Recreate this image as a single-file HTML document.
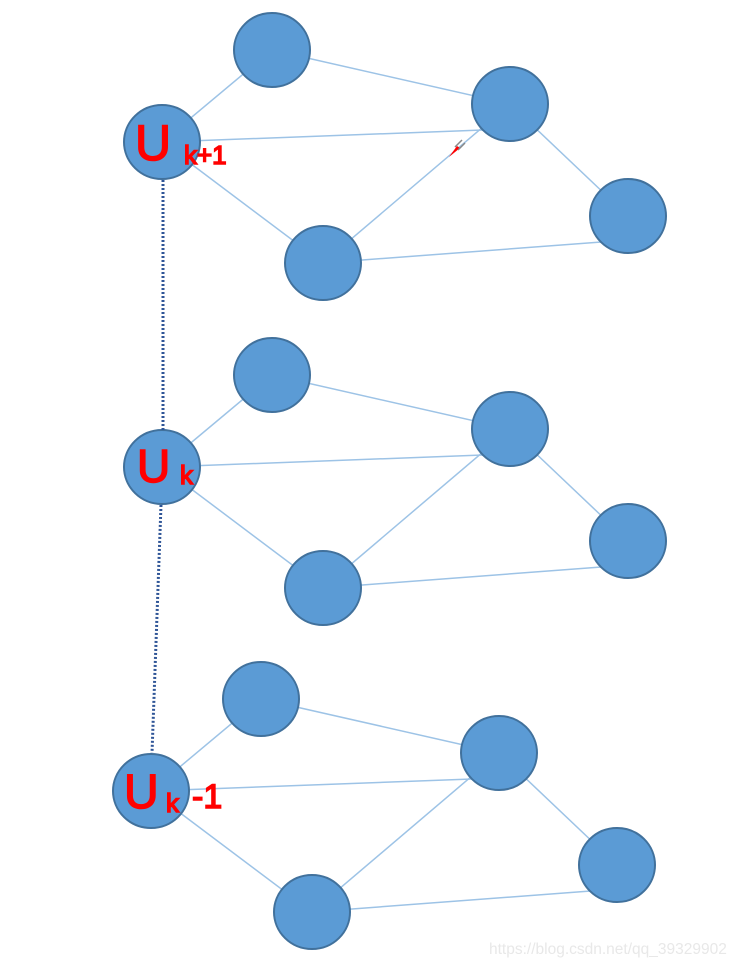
<!DOCTYPE html>
<html><head><meta charset="utf-8"><style>
html,body{margin:0;padding:0;background:#fff;}
svg{display:block;}
</style></head><body>
<svg width="741" height="965" viewBox="0 0 741 965" xmlns="http://www.w3.org/2000/svg">
<defs>
<g id="grp">
  <g stroke="#9dc3e6" stroke-width="1.5" fill="none">
    <line x1="162" y1="142" x2="272" y2="50"/>
    <line x1="162" y1="142" x2="510" y2="129"/>
    <line x1="162" y1="142" x2="323" y2="263"/>
    <line x1="272" y1="50" x2="510" y2="104"/>
    <line x1="510" y1="104" x2="323" y2="263"/>
    <line x1="510" y1="104" x2="628" y2="216"/>
    <line x1="323" y1="263" x2="628" y2="240"/>
  </g>
  <g fill="#5b9bd5" stroke="#41719c" stroke-width="2">
    <ellipse cx="162" cy="142" rx="38" ry="37"/>
    <ellipse cx="272" cy="50" rx="38" ry="37"/>
    <ellipse cx="510" cy="104" rx="38" ry="37"/>
    <ellipse cx="628" cy="216" rx="38" ry="37"/>
    <ellipse cx="323" cy="263" rx="38" ry="37"/>
  </g>
</g>
</defs>
<use href="#grp"/>
<use href="#grp" transform="translate(0,325)"/>
<use href="#grp" transform="translate(-11,649)"/>
<g stroke="#2f5597" stroke-width="3" stroke-dasharray="2 2">
  <line x1="163" y1="180" x2="163" y2="430"/>
  <line x1="161" y1="505" x2="152" y2="753"/>
</g>
<g fill="#ff0000" stroke="#ff0000" stroke-width="1.5" font-family="Liberation Sans, sans-serif">
  <text x="135" y="160" font-size="50">U</text>
  <text x="184" y="164" font-size="26">k+1</text>
  <text x="137" y="482" font-size="46">U</text>
  <text x="180" y="484" font-size="26">k</text>
  <text x="124" y="808" font-size="48">U</text>
  <text x="166" y="812" font-size="26">k</text>
  <text x="192" y="808" font-size="34">-1</text>
</g>
<path d="M449 157 L457 146 L460 148 Z" fill="#ff0000"/>
<path d="M455 147 L462 140 M458 150 L465 143" stroke="#888" stroke-width="1.5"/>
<text x="489" y="954" font-family="Liberation Sans, sans-serif" font-size="15.5" fill="#e8e8e8">https://blog.csdn.net/qq_39329902</text>
</svg>
</body></html>
